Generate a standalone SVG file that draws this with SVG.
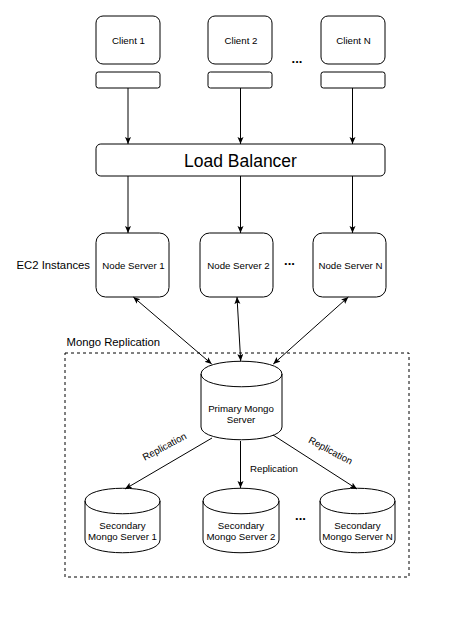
<svg xmlns="http://www.w3.org/2000/svg" width="474" height="642" viewBox="0 0 474 642">
<defs>
<style>
.box{fill:#fff;stroke:#000;stroke-width:1}
.t{font-family:"Liberation Sans",Arial,sans-serif;font-size:9.7px;fill:#000;text-anchor:middle}
.tl{font-family:"Liberation Sans",Arial,sans-serif;font-size:11.3px;fill:#000}
.dots{font-family:"Liberation Sans",Arial,sans-serif;font-size:13px;font-weight:bold;fill:#000;text-anchor:middle}
.c{fill:none;stroke:#000;stroke-width:1}
.c1{fill:none;stroke:#000;stroke-width:1;marker-end:url(#arr)}
.c2{fill:none;stroke:#000;stroke-width:1;marker-end:url(#arr);marker-start:url(#arrs)}
</style>
<marker id="arr" markerUnits="userSpaceOnUse" markerWidth="8" markerHeight="7" refX="7" refY="3" orient="auto" viewBox="0 0 8 7">
<path d="M0,0 L7,3 L0,6 L1.5,3 Z" fill="#000"/>
</marker>
<marker id="arrs" markerUnits="userSpaceOnUse" markerWidth="8" markerHeight="7" refX="7" refY="3" orient="auto-start-reverse" viewBox="0 0 8 7">
<path d="M0,0 L7,3 L0,6 L1.5,3 Z" fill="#000"/>
</marker>
</defs>
<rect width="474" height="642" fill="#fff"/>

<g id="mongo-replication-group">
<rect x="65" y="353" width="344" height="224" fill="none" stroke="#000" stroke-width="1" stroke-dasharray="3 3"/>
<text class="tl" x="66.5" y="345.5">Mongo Replication</text>
</g>

<g id="client1"><rect class="box" x="96" y="16" width="64" height="48" rx="7"/><text class="t" x="128.5" y="44">Client 1</text></g>
<g id="client2"><rect class="box" x="208" y="16" width="64" height="48" rx="7"/><text class="t" x="241" y="44">Client 2</text></g>
<g id="clientN"><rect class="box" x="321" y="16" width="64" height="48" rx="7"/><text class="t" x="353.5" y="44">Client N</text></g>
<g id="client-dots"><text class="dots" x="297" y="63">...</text></g>

<g id="bar1"><rect class="box" x="96" y="72" width="64" height="16" rx="2.4"/></g>
<g id="bar2"><rect class="box" x="208" y="72" width="64" height="16" rx="2.4"/></g>
<g id="barN"><rect class="box" x="321" y="72" width="64" height="16" rx="2.4"/></g>

<g id="load-balancer"><rect class="box" x="96" y="144" width="289" height="32" rx="4.8"/><text x="240.5" y="166.5" font-family="'Liberation Sans',Arial,sans-serif" font-size="17.5px" text-anchor="middle" fill="#000">Load Balancer</text></g>

<g id="ec2-label"><text class="tl" x="90" y="269" text-anchor="end">EC2 Instances</text></g>
<g id="node1"><rect class="box" x="96" y="233" width="73" height="64" rx="9.6"/><text class="t" x="133.5" y="268.5">Node Server 1</text></g>
<g id="node2"><rect class="box" x="200" y="233" width="73" height="64" rx="9.6"/><text class="t" x="238.5" y="268.5">Node Server 2</text></g>
<g id="nodeN"><rect class="box" x="313" y="233" width="73" height="64" rx="9.6"/><text class="t" x="350.5" y="268.5">Node Server N</text></g>
<g id="node-dots"><text class="dots" x="289.5" y="264.5">...</text></g>

<g id="primary">
<path class="box" d="M201,374 C201,357 282,357 282,374 L282,427 C282,444 201,444 201,427 Z"/>
<path class="c" d="M201,374 C201,391 282,391 282,374"/>
<text class="t" x="241" y="411.8">Primary Mongo</text>
<text class="t" x="241" y="423">Server</text>
</g>

<g id="secondary1">
<path class="box" d="M85,501 C85,484 160,484 160,501 L160,540 C160,557 85,557 85,540 Z"/>
<path class="c" d="M85,501 C85,518 160,518 160,501"/>
<text class="t" x="122.5" y="528.5">Secondary</text>
<text class="t" x="122.5" y="540">Mongo Server 1</text>
</g>
<g id="secondary2">
<path class="box" d="M203,501 C203,484 279,484 279,501 L279,540 C279,557 203,557 203,540 Z"/>
<path class="c" d="M203,501 C203,518 279,518 279,501"/>
<text class="t" x="241" y="528.5">Secondary</text>
<text class="t" x="241" y="540">Mongo Server 2</text>
</g>
<g id="secondaryN">
<path class="box" d="M320,501 C320,484 395,484 395,501 L395,540 C395,557 320,557 320,540 Z"/>
<path class="c" d="M320,501 C320,518 395,518 395,501"/>
<text class="t" x="357.5" y="528.5">Secondary</text>
<text class="t" x="357.5" y="540">Mongo Server N</text>
</g>
<g id="secondary-dots"><text class="dots" x="300.5" y="520">...</text></g>

<g id="connectors">
<line class="c1" x1="128" y1="88" x2="128" y2="144"/>
<line class="c1" x1="240.5" y1="88" x2="240.5" y2="144"/>
<line class="c1" x1="352.5" y1="88" x2="352.5" y2="144"/>
<line class="c1" x1="128" y1="176" x2="128" y2="233"/>
<line class="c1" x1="240.5" y1="176" x2="240.5" y2="233"/>
<line class="c1" x1="352.5" y1="176" x2="352.5" y2="233"/>
<line class="c2" x1="133.3" y1="297" x2="211.7" y2="364"/>
<line class="c2" x1="237" y1="297" x2="240.7" y2="361"/>
<line class="c2" x1="348.3" y1="297" x2="273.3" y2="364"/>
<line class="c1" x1="212" y1="438" x2="125" y2="489"/>
<line class="c1" x1="240.5" y1="441" x2="240.5" y2="488"/>
<line class="c1" x1="273" y1="435" x2="357" y2="489"/>
<text class="t" transform="translate(166,449.5) rotate(-28)">Replication</text>
<text class="t" x="274" y="471.8">Replication</text>
<text class="t" transform="translate(329,453.5) rotate(28)">Replication</text>
</g>
</svg>
